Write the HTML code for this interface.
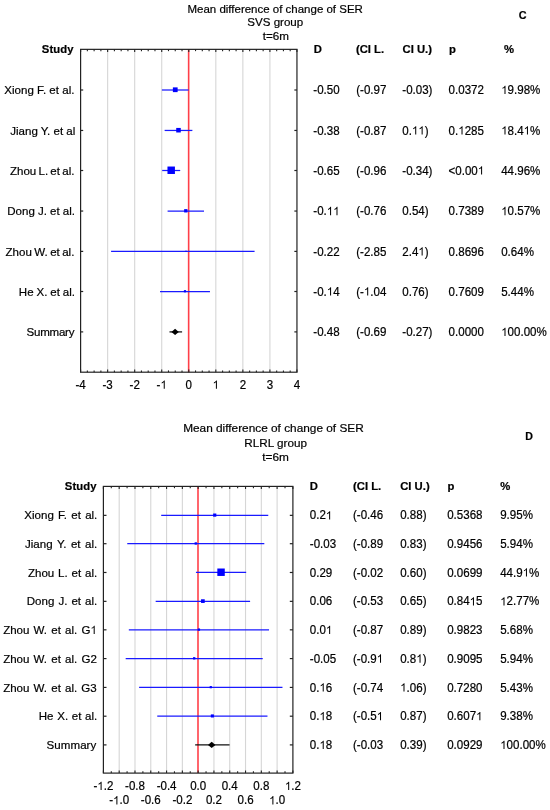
<!DOCTYPE html>
<html><head><meta charset="utf-8"><style>
html,body{margin:0;padding:0;background:#fff;}
body{width:550px;height:810px;overflow:hidden;}
svg{display:block;font-family:"Liberation Sans", sans-serif;filter:blur(0.45px);}
text{fill:#000;stroke:#000;stroke-width:0.2px;}
text .o{fill:none;stroke:none;}
.one{fill:#000;stroke:#000;stroke-width:0.2px;}
</style></head><body>
<svg width="550" height="810" viewBox="0 0 550 810">
<rect width="550" height="810" fill="#fff"/>
<line x1="107.64" y1="49.35" x2="107.64" y2="372.20" stroke="#d6d6d6" stroke-width="1.1"/>
<line x1="134.69" y1="49.35" x2="134.69" y2="372.20" stroke="#d6d6d6" stroke-width="1.1"/>
<line x1="161.73" y1="49.35" x2="161.73" y2="372.20" stroke="#d6d6d6" stroke-width="1.1"/>
<line x1="215.82" y1="49.35" x2="215.82" y2="372.20" stroke="#d6d6d6" stroke-width="1.1"/>
<line x1="242.86" y1="49.35" x2="242.86" y2="372.20" stroke="#d6d6d6" stroke-width="1.1"/>
<line x1="269.91" y1="49.35" x2="269.91" y2="372.20" stroke="#d6d6d6" stroke-width="1.1"/>
<line x1="188.65" y1="49.35" x2="188.65" y2="372.20" stroke="#ff3f48" stroke-width="1.6"/>
<line x1="162.54" y1="90.00" x2="187.96" y2="90.00" stroke="#1a1aff" stroke-width="1.25" stroke-linecap="square"/>
<rect x="172.87" y="87.37" width="4.76" height="4.76" fill="#0000ff"/>
<line x1="80.60" y1="90.00" x2="83.20" y2="90.00" stroke="#222" stroke-width="1.2"/>
<line x1="294.35" y1="90.00" x2="296.95" y2="90.00" stroke="#222" stroke-width="1.2"/>
<text transform="translate(4.34 94.10) scale(1 1.02)" text-anchor="start" font-size="11.55" word-spacing="0.05">Xiong F. et al.</text>
<text transform="translate(313.30 94.10) scale(1 1.045)" text-anchor="start" font-size="11.55">-0.50</text>
<text transform="translate(356.20 94.10) scale(1 1.045)" text-anchor="start" font-size="11.55">(-0.97</text>
<text transform="translate(402.30 94.10) scale(1 1.045)" text-anchor="start" font-size="11.55">-0.03)</text>
<text transform="translate(448.60 94.10) scale(1 1.045)" text-anchor="start" font-size="11.55">0.0372</text>
<text id="n0" transform="translate(501.20 94.10) scale(1 1.045)" text-anchor="start" font-size="11.55"><tspan class="o">1</tspan>9.98%</text>
<line x1="165.25" y1="130.45" x2="191.75" y2="130.45" stroke="#1a1aff" stroke-width="1.25" stroke-linecap="square"/>
<rect x="176.22" y="127.93" width="4.55" height="4.55" fill="#0000ff"/>
<line x1="80.60" y1="130.45" x2="83.20" y2="130.45" stroke="#222" stroke-width="1.2"/>
<line x1="294.35" y1="130.45" x2="296.95" y2="130.45" stroke="#222" stroke-width="1.2"/>
<text transform="translate(10.22 134.55) scale(1 1.02)" text-anchor="start" font-size="11.55" word-spacing="0.03">Jiang Y. et al</text>
<text transform="translate(313.30 134.55) scale(1 1.045)" text-anchor="start" font-size="11.55">-0.38</text>
<text transform="translate(356.20 134.55) scale(1 1.045)" text-anchor="start" font-size="11.55">(-0.87</text>
<text id="n1" transform="translate(402.30 134.55) scale(1 1.045)" text-anchor="start" font-size="11.55">0.<tspan class="o">1</tspan><tspan class="o">1</tspan>)</text>
<text id="n2" transform="translate(448.60 134.55) scale(1 1.045)" text-anchor="start" font-size="11.55">0.<tspan class="o">1</tspan>285</text>
<text id="n3" transform="translate(501.20 134.55) scale(1 1.045)" text-anchor="start" font-size="11.55"><tspan class="o">1</tspan>8.4<tspan class="o">1</tspan>%</text>
<line x1="162.81" y1="170.50" x2="179.58" y2="170.50" stroke="#1a1aff" stroke-width="1.25" stroke-linecap="square"/>
<rect x="167.47" y="166.53" width="7.45" height="7.45" fill="#0000ff"/>
<line x1="80.60" y1="170.50" x2="83.20" y2="170.50" stroke="#222" stroke-width="1.2"/>
<line x1="294.35" y1="170.50" x2="296.95" y2="170.50" stroke="#222" stroke-width="1.2"/>
<text transform="translate(9.93 174.60) scale(1 1.02)" text-anchor="start" font-size="11.55" word-spacing="-0.96">Zhou L. et al.</text>
<text transform="translate(313.30 174.60) scale(1 1.045)" text-anchor="start" font-size="11.55">-0.65</text>
<text transform="translate(356.20 174.60) scale(1 1.045)" text-anchor="start" font-size="11.55">(-0.96</text>
<text transform="translate(402.30 174.60) scale(1 1.045)" text-anchor="start" font-size="11.55">-0.34)</text>
<text id="n4" transform="translate(448.60 174.60) scale(1 1.045)" text-anchor="start" font-size="11.55">&lt;0.00<tspan class="o">1</tspan></text>
<text transform="translate(501.20 174.60) scale(1 1.045)" text-anchor="start" font-size="11.55">44.96%</text>
<line x1="168.22" y1="211.05" x2="203.38" y2="211.05" stroke="#1a1aff" stroke-width="1.25" stroke-linecap="square"/>
<rect x="184.15" y="209.15" width="3.30" height="3.30" fill="#0000ff"/>
<line x1="80.60" y1="211.05" x2="83.20" y2="211.05" stroke="#222" stroke-width="1.2"/>
<line x1="294.35" y1="211.05" x2="296.95" y2="211.05" stroke="#222" stroke-width="1.2"/>
<text transform="translate(7.25 215.15) scale(1 1.02)" text-anchor="start" font-size="11.55" word-spacing="-0.11">Dong J. et al.</text>
<text id="n5" transform="translate(313.30 215.15) scale(1 1.045)" text-anchor="start" font-size="11.55">-0.<tspan class="o">1</tspan><tspan class="o">1</tspan></text>
<text transform="translate(356.20 215.15) scale(1 1.045)" text-anchor="start" font-size="11.55">(-0.76</text>
<text transform="translate(402.30 215.15) scale(1 1.045)" text-anchor="start" font-size="11.55">0.54)</text>
<text transform="translate(448.60 215.15) scale(1 1.045)" text-anchor="start" font-size="11.55">0.7389</text>
<text id="n6" transform="translate(501.20 215.15) scale(1 1.045)" text-anchor="start" font-size="11.55"><tspan class="o">1</tspan>0.57%</text>
<line x1="111.70" y1="251.40" x2="253.95" y2="251.40" stroke="#1a1aff" stroke-width="1.25" stroke-linecap="square"/>
<rect x="185.45" y="250.60" width="1.10" height="1.10" fill="#0000ff"/>
<line x1="80.60" y1="251.40" x2="83.20" y2="251.40" stroke="#222" stroke-width="1.2"/>
<line x1="294.35" y1="251.40" x2="296.95" y2="251.40" stroke="#222" stroke-width="1.2"/>
<text transform="translate(5.53 255.50) scale(1 1.02)" text-anchor="start" font-size="11.55" word-spacing="-0.78">Zhou W. et al.</text>
<text transform="translate(313.30 255.50) scale(1 1.045)" text-anchor="start" font-size="11.55">-0.22</text>
<text transform="translate(356.20 255.50) scale(1 1.045)" text-anchor="start" font-size="11.55">(-2.85</text>
<text id="n7" transform="translate(402.30 255.50) scale(1 1.045)" text-anchor="start" font-size="11.55">2.4<tspan class="o">1</tspan>)</text>
<text transform="translate(448.60 255.50) scale(1 1.045)" text-anchor="start" font-size="11.55">0.8696</text>
<text transform="translate(501.20 255.50) scale(1 1.045)" text-anchor="start" font-size="11.55">0.64%</text>
<line x1="160.65" y1="291.50" x2="209.33" y2="291.50" stroke="#1a1aff" stroke-width="1.25" stroke-linecap="square"/>
<rect x="183.89" y="290.15" width="2.20" height="2.20" fill="#0000ff"/>
<line x1="80.60" y1="291.50" x2="83.20" y2="291.50" stroke="#222" stroke-width="1.2"/>
<line x1="294.35" y1="291.50" x2="296.95" y2="291.50" stroke="#222" stroke-width="1.2"/>
<text transform="translate(18.85 295.60) scale(1 1.02)" text-anchor="start" font-size="11.55" word-spacing="-0.34">He X. et al.</text>
<text id="n8" transform="translate(313.30 295.60) scale(1 1.045)" text-anchor="start" font-size="11.55">-0.<tspan class="o">1</tspan>4</text>
<text id="n9" transform="translate(356.20 295.60) scale(1 1.045)" text-anchor="start" font-size="11.55">(-<tspan class="o">1</tspan>.04</text>
<text transform="translate(402.30 295.60) scale(1 1.045)" text-anchor="start" font-size="11.55">0.76)</text>
<text transform="translate(448.60 295.60) scale(1 1.045)" text-anchor="start" font-size="11.55">0.7609</text>
<text transform="translate(501.20 295.60) scale(1 1.045)" text-anchor="start" font-size="11.55">5.44%</text>
<line x1="170.11" y1="331.90" x2="181.47" y2="331.90" stroke="#111" stroke-width="1.25" stroke-linecap="square"/>
<path d="M171.40,331.90L175.10,328.80L178.80,331.90L175.10,335.00Z" fill="#000"/>
<line x1="80.60" y1="331.90" x2="83.20" y2="331.90" stroke="#222" stroke-width="1.2"/>
<line x1="294.35" y1="331.90" x2="296.95" y2="331.90" stroke="#222" stroke-width="1.2"/>
<text transform="translate(26.48 336.00) scale(1 1.02)" text-anchor="start" font-size="11.55" textLength="48.05" lengthAdjust="spacing">Summary</text>
<text transform="translate(313.30 336.00) scale(1 1.045)" text-anchor="start" font-size="11.55">-0.48</text>
<text transform="translate(356.20 336.00) scale(1 1.045)" text-anchor="start" font-size="11.55">(-0.69</text>
<text transform="translate(402.30 336.00) scale(1 1.045)" text-anchor="start" font-size="11.55">-0.27)</text>
<text transform="translate(448.60 336.00) scale(1 1.045)" text-anchor="start" font-size="11.55">0.0000</text>
<text id="n10" transform="translate(501.20 336.00) scale(1 1.045)" text-anchor="start" font-size="11.55"><tspan class="o">1</tspan>00.00%</text>
<line x1="80.60" y1="49.35" x2="80.60" y2="51.95" stroke="#222" stroke-width="1.1"/>
<line x1="80.60" y1="372.20" x2="80.60" y2="369.60" stroke="#222" stroke-width="1.1"/>
<line x1="87.36" y1="49.35" x2="87.36" y2="51.15" stroke="#222" stroke-width="1.1"/>
<line x1="87.36" y1="372.20" x2="87.36" y2="370.40" stroke="#222" stroke-width="1.1"/>
<line x1="94.12" y1="49.35" x2="94.12" y2="51.15" stroke="#222" stroke-width="1.1"/>
<line x1="94.12" y1="372.20" x2="94.12" y2="370.40" stroke="#222" stroke-width="1.1"/>
<line x1="100.88" y1="49.35" x2="100.88" y2="51.15" stroke="#222" stroke-width="1.1"/>
<line x1="100.88" y1="372.20" x2="100.88" y2="370.40" stroke="#222" stroke-width="1.1"/>
<line x1="107.64" y1="49.35" x2="107.64" y2="51.95" stroke="#222" stroke-width="1.1"/>
<line x1="107.64" y1="372.20" x2="107.64" y2="369.60" stroke="#222" stroke-width="1.1"/>
<line x1="114.40" y1="49.35" x2="114.40" y2="51.15" stroke="#222" stroke-width="1.1"/>
<line x1="114.40" y1="372.20" x2="114.40" y2="370.40" stroke="#222" stroke-width="1.1"/>
<line x1="121.17" y1="49.35" x2="121.17" y2="51.15" stroke="#222" stroke-width="1.1"/>
<line x1="121.17" y1="372.20" x2="121.17" y2="370.40" stroke="#222" stroke-width="1.1"/>
<line x1="127.93" y1="49.35" x2="127.93" y2="51.15" stroke="#222" stroke-width="1.1"/>
<line x1="127.93" y1="372.20" x2="127.93" y2="370.40" stroke="#222" stroke-width="1.1"/>
<line x1="134.69" y1="49.35" x2="134.69" y2="51.95" stroke="#222" stroke-width="1.1"/>
<line x1="134.69" y1="372.20" x2="134.69" y2="369.60" stroke="#222" stroke-width="1.1"/>
<line x1="141.45" y1="49.35" x2="141.45" y2="51.15" stroke="#222" stroke-width="1.1"/>
<line x1="141.45" y1="372.20" x2="141.45" y2="370.40" stroke="#222" stroke-width="1.1"/>
<line x1="148.21" y1="49.35" x2="148.21" y2="51.15" stroke="#222" stroke-width="1.1"/>
<line x1="148.21" y1="372.20" x2="148.21" y2="370.40" stroke="#222" stroke-width="1.1"/>
<line x1="154.97" y1="49.35" x2="154.97" y2="51.15" stroke="#222" stroke-width="1.1"/>
<line x1="154.97" y1="372.20" x2="154.97" y2="370.40" stroke="#222" stroke-width="1.1"/>
<line x1="161.73" y1="49.35" x2="161.73" y2="51.95" stroke="#222" stroke-width="1.1"/>
<line x1="161.73" y1="372.20" x2="161.73" y2="369.60" stroke="#222" stroke-width="1.1"/>
<line x1="168.49" y1="49.35" x2="168.49" y2="51.15" stroke="#222" stroke-width="1.1"/>
<line x1="168.49" y1="372.20" x2="168.49" y2="370.40" stroke="#222" stroke-width="1.1"/>
<line x1="175.25" y1="49.35" x2="175.25" y2="51.15" stroke="#222" stroke-width="1.1"/>
<line x1="175.25" y1="372.20" x2="175.25" y2="370.40" stroke="#222" stroke-width="1.1"/>
<line x1="182.01" y1="49.35" x2="182.01" y2="51.15" stroke="#222" stroke-width="1.1"/>
<line x1="182.01" y1="372.20" x2="182.01" y2="370.40" stroke="#222" stroke-width="1.1"/>
<line x1="188.78" y1="49.35" x2="188.78" y2="51.95" stroke="#222" stroke-width="1.1"/>
<line x1="188.78" y1="372.20" x2="188.78" y2="369.60" stroke="#222" stroke-width="1.1"/>
<line x1="195.54" y1="49.35" x2="195.54" y2="51.15" stroke="#222" stroke-width="1.1"/>
<line x1="195.54" y1="372.20" x2="195.54" y2="370.40" stroke="#222" stroke-width="1.1"/>
<line x1="202.30" y1="49.35" x2="202.30" y2="51.15" stroke="#222" stroke-width="1.1"/>
<line x1="202.30" y1="372.20" x2="202.30" y2="370.40" stroke="#222" stroke-width="1.1"/>
<line x1="209.06" y1="49.35" x2="209.06" y2="51.15" stroke="#222" stroke-width="1.1"/>
<line x1="209.06" y1="372.20" x2="209.06" y2="370.40" stroke="#222" stroke-width="1.1"/>
<line x1="215.82" y1="49.35" x2="215.82" y2="51.95" stroke="#222" stroke-width="1.1"/>
<line x1="215.82" y1="372.20" x2="215.82" y2="369.60" stroke="#222" stroke-width="1.1"/>
<line x1="222.58" y1="49.35" x2="222.58" y2="51.15" stroke="#222" stroke-width="1.1"/>
<line x1="222.58" y1="372.20" x2="222.58" y2="370.40" stroke="#222" stroke-width="1.1"/>
<line x1="229.34" y1="49.35" x2="229.34" y2="51.15" stroke="#222" stroke-width="1.1"/>
<line x1="229.34" y1="372.20" x2="229.34" y2="370.40" stroke="#222" stroke-width="1.1"/>
<line x1="236.10" y1="49.35" x2="236.10" y2="51.15" stroke="#222" stroke-width="1.1"/>
<line x1="236.10" y1="372.20" x2="236.10" y2="370.40" stroke="#222" stroke-width="1.1"/>
<line x1="242.86" y1="49.35" x2="242.86" y2="51.95" stroke="#222" stroke-width="1.1"/>
<line x1="242.86" y1="372.20" x2="242.86" y2="369.60" stroke="#222" stroke-width="1.1"/>
<line x1="249.62" y1="49.35" x2="249.62" y2="51.15" stroke="#222" stroke-width="1.1"/>
<line x1="249.62" y1="372.20" x2="249.62" y2="370.40" stroke="#222" stroke-width="1.1"/>
<line x1="256.38" y1="49.35" x2="256.38" y2="51.15" stroke="#222" stroke-width="1.1"/>
<line x1="256.38" y1="372.20" x2="256.38" y2="370.40" stroke="#222" stroke-width="1.1"/>
<line x1="263.15" y1="49.35" x2="263.15" y2="51.15" stroke="#222" stroke-width="1.1"/>
<line x1="263.15" y1="372.20" x2="263.15" y2="370.40" stroke="#222" stroke-width="1.1"/>
<line x1="269.91" y1="49.35" x2="269.91" y2="51.95" stroke="#222" stroke-width="1.1"/>
<line x1="269.91" y1="372.20" x2="269.91" y2="369.60" stroke="#222" stroke-width="1.1"/>
<line x1="276.67" y1="49.35" x2="276.67" y2="51.15" stroke="#222" stroke-width="1.1"/>
<line x1="276.67" y1="372.20" x2="276.67" y2="370.40" stroke="#222" stroke-width="1.1"/>
<line x1="283.43" y1="49.35" x2="283.43" y2="51.15" stroke="#222" stroke-width="1.1"/>
<line x1="283.43" y1="372.20" x2="283.43" y2="370.40" stroke="#222" stroke-width="1.1"/>
<line x1="290.19" y1="49.35" x2="290.19" y2="51.15" stroke="#222" stroke-width="1.1"/>
<line x1="290.19" y1="372.20" x2="290.19" y2="370.40" stroke="#222" stroke-width="1.1"/>
<line x1="296.95" y1="49.35" x2="296.95" y2="51.95" stroke="#222" stroke-width="1.1"/>
<line x1="296.95" y1="372.20" x2="296.95" y2="369.60" stroke="#222" stroke-width="1.1"/>
<rect x="80.60" y="49.35" width="216.35" height="322.85" fill="none" stroke="#222" stroke-width="1.2"/>
<text transform="translate(80.60 388.70) scale(1 1.045)" text-anchor="middle" font-size="11.55">-4</text>
<text transform="translate(107.64 388.70) scale(1 1.045)" text-anchor="middle" font-size="11.55">-3</text>
<text transform="translate(134.69 388.70) scale(1 1.045)" text-anchor="middle" font-size="11.55">-2</text>
<text id="n11" transform="translate(161.73 388.70) scale(1 1.045)" text-anchor="middle" font-size="11.55">-<tspan class="o">1</tspan></text>
<text transform="translate(188.78 388.70) scale(1 1.045)" text-anchor="middle" font-size="11.55">0</text>
<text id="n12" transform="translate(215.82 388.70) scale(1 1.045)" text-anchor="middle" font-size="11.55"><tspan class="o">1</tspan></text>
<text transform="translate(242.86 388.70) scale(1 1.045)" text-anchor="middle" font-size="11.55">2</text>
<text transform="translate(269.91 388.70) scale(1 1.045)" text-anchor="middle" font-size="11.55">3</text>
<text transform="translate(296.95 388.70) scale(1 1.045)" text-anchor="middle" font-size="11.55">4</text>
<text transform="translate(41.87 53.20) scale(1 0.96)" text-anchor="start" font-weight="bold" font-size="11.3" textLength="31.59" lengthAdjust="spacing">Study</text>
<text transform="translate(313.80 53.20) scale(1 0.96)" text-anchor="start" font-weight="bold" font-size="11.3">D</text>
<text transform="translate(355.90 53.20) scale(1 0.96)" text-anchor="start" font-weight="bold" font-size="11.3">(CI L.</text>
<text transform="translate(402.50 53.20) scale(1 0.96)" text-anchor="start" font-weight="bold" font-size="11.3">CI U.)</text>
<text transform="translate(449.00 53.20) scale(1 0.96)" text-anchor="start" font-weight="bold" font-size="11.3">p</text>
<text transform="translate(504.00 53.20) scale(1 0.96)" text-anchor="start" font-weight="bold" font-size="11.3">%</text>
<text transform="translate(187.45 13.00) scale(0.9953 1.0)" font-size="11.55">Mean difference of change of SER</text>
<text transform="translate(247.28 25.80) scale(1.0027 1.0)" font-size="11.55">SVS group</text>
<text transform="translate(262.73 39.80) scale(1.0091 1.0)" font-size="11.55">t=6m</text>
<text transform="translate(518.66 19.10) scale(1 0.96)" text-anchor="start" font-weight="bold" font-size="10.8" textLength="8.24" lengthAdjust="spacing">C</text>
<line x1="119.19" y1="486.40" x2="119.19" y2="773.10" stroke="#d6d6d6" stroke-width="1.1"/>
<line x1="134.98" y1="486.40" x2="134.98" y2="773.10" stroke="#d6d6d6" stroke-width="1.1"/>
<line x1="150.77" y1="486.40" x2="150.77" y2="773.10" stroke="#d6d6d6" stroke-width="1.1"/>
<line x1="166.57" y1="486.40" x2="166.57" y2="773.10" stroke="#d6d6d6" stroke-width="1.1"/>
<line x1="182.36" y1="486.40" x2="182.36" y2="773.10" stroke="#d6d6d6" stroke-width="1.1"/>
<line x1="213.94" y1="486.40" x2="213.94" y2="773.10" stroke="#d6d6d6" stroke-width="1.1"/>
<line x1="229.73" y1="486.40" x2="229.73" y2="773.10" stroke="#d6d6d6" stroke-width="1.1"/>
<line x1="245.53" y1="486.40" x2="245.53" y2="773.10" stroke="#d6d6d6" stroke-width="1.1"/>
<line x1="261.32" y1="486.40" x2="261.32" y2="773.10" stroke="#d6d6d6" stroke-width="1.1"/>
<line x1="277.11" y1="486.40" x2="277.11" y2="773.10" stroke="#d6d6d6" stroke-width="1.1"/>
<line x1="198.00" y1="486.40" x2="198.00" y2="773.10" stroke="#ff3f48" stroke-width="1.6"/>
<line x1="161.83" y1="515.35" x2="267.63" y2="515.35" stroke="#1a1aff" stroke-width="1.25" stroke-linecap="square"/>
<rect x="213.14" y="513.51" width="3.19" height="3.19" fill="#0000ff"/>
<line x1="103.40" y1="515.35" x2="106.50" y2="515.35" stroke="#222" stroke-width="1.2"/>
<line x1="289.80" y1="515.35" x2="292.90" y2="515.35" stroke="#222" stroke-width="1.2"/>
<text transform="translate(24.34 519.45) scale(1 1.02)" text-anchor="start" font-size="11.55" word-spacing="1.02">Xiong F. et al.</text>
<text id="n13" transform="translate(309.80 519.45) scale(1 1.045)" text-anchor="start" font-size="11.55">0.2<tspan class="o">1</tspan></text>
<text transform="translate(353.00 519.45) scale(1 1.045)" text-anchor="start" font-size="11.55">(-0.46</text>
<text transform="translate(400.20 519.45) scale(1 1.045)" text-anchor="start" font-size="11.55">0.88)</text>
<text transform="translate(447.20 519.45) scale(1 1.045)" text-anchor="start" font-size="11.55">0.5368</text>
<text transform="translate(500.20 519.45) scale(1 1.045)" text-anchor="start" font-size="11.55">9.95%</text>
<line x1="127.88" y1="543.70" x2="263.69" y2="543.70" stroke="#1a1aff" stroke-width="1.25" stroke-linecap="square"/>
<rect x="194.62" y="542.29" width="2.32" height="2.32" fill="#0000ff"/>
<line x1="103.40" y1="543.70" x2="106.50" y2="543.70" stroke="#222" stroke-width="1.2"/>
<line x1="289.80" y1="543.70" x2="292.90" y2="543.70" stroke="#222" stroke-width="1.2"/>
<text transform="translate(25.02 547.80) scale(1 1.02)" text-anchor="start" font-size="11.55" word-spacing="1.35">Jiang Y. et al.</text>
<text transform="translate(309.80 547.80) scale(1 1.045)" text-anchor="start" font-size="11.55">-0.03</text>
<text transform="translate(353.00 547.80) scale(1 1.045)" text-anchor="start" font-size="11.55">(-0.89</text>
<text transform="translate(400.20 547.80) scale(1 1.045)" text-anchor="start" font-size="11.55">0.83)</text>
<text transform="translate(447.20 547.80) scale(1 1.045)" text-anchor="start" font-size="11.55">0.9456</text>
<text transform="translate(500.20 547.80) scale(1 1.045)" text-anchor="start" font-size="11.55">5.94%</text>
<line x1="196.57" y1="572.48" x2="245.53" y2="572.48" stroke="#1a1aff" stroke-width="1.25" stroke-linecap="square"/>
<rect x="217.33" y="568.51" width="7.44" height="7.44" fill="#0000ff"/>
<line x1="103.40" y1="572.48" x2="106.50" y2="572.48" stroke="#222" stroke-width="1.2"/>
<line x1="289.80" y1="572.48" x2="292.90" y2="572.48" stroke="#222" stroke-width="1.2"/>
<text transform="translate(27.93 576.58) scale(1 1.02)" text-anchor="start" font-size="11.55" word-spacing="0.67">Zhou L. et al.</text>
<text transform="translate(309.80 576.58) scale(1 1.045)" text-anchor="start" font-size="11.55">0.29</text>
<text transform="translate(353.00 576.58) scale(1 1.045)" text-anchor="start" font-size="11.55">(-0.02</text>
<text transform="translate(400.20 576.58) scale(1 1.045)" text-anchor="start" font-size="11.55">0.60)</text>
<text transform="translate(447.20 576.58) scale(1 1.045)" text-anchor="start" font-size="11.55">0.0699</text>
<text id="n14" transform="translate(500.20 576.58) scale(1 1.045)" text-anchor="start" font-size="11.55">44.9<tspan class="o">1</tspan>%</text>
<line x1="156.30" y1="601.35" x2="249.47" y2="601.35" stroke="#1a1aff" stroke-width="1.25" stroke-linecap="square"/>
<rect x="201.04" y="599.26" width="3.69" height="3.69" fill="#0000ff"/>
<line x1="103.40" y1="601.35" x2="106.50" y2="601.35" stroke="#222" stroke-width="1.2"/>
<line x1="289.80" y1="601.35" x2="292.90" y2="601.35" stroke="#222" stroke-width="1.2"/>
<text transform="translate(26.75 605.45) scale(1 1.02)" text-anchor="start" font-size="11.55" word-spacing="0.85">Dong J. et al.</text>
<text transform="translate(309.80 605.45) scale(1 1.045)" text-anchor="start" font-size="11.55">0.06</text>
<text transform="translate(353.00 605.45) scale(1 1.045)" text-anchor="start" font-size="11.55">(-0.53</text>
<text transform="translate(400.20 605.45) scale(1 1.045)" text-anchor="start" font-size="11.55">0.65)</text>
<text id="n15" transform="translate(447.20 605.45) scale(1 1.045)" text-anchor="start" font-size="11.55">0.84<tspan class="o">1</tspan>5</text>
<text id="n16" transform="translate(500.20 605.45) scale(1 1.045)" text-anchor="start" font-size="11.55"><tspan class="o">1</tspan>2.77%</text>
<line x1="129.45" y1="629.83" x2="268.42" y2="629.83" stroke="#1a1aff" stroke-width="1.25" stroke-linecap="square"/>
<rect x="197.81" y="628.45" width="2.26" height="2.26" fill="#0000ff"/>
<line x1="103.40" y1="629.83" x2="106.50" y2="629.83" stroke="#222" stroke-width="1.2"/>
<line x1="289.80" y1="629.83" x2="292.90" y2="629.83" stroke="#222" stroke-width="1.2"/>
<text id="n17" transform="translate(3.13 633.93) scale(1 1.02)" text-anchor="start" font-size="11.55" word-spacing="0.97">Zhou W. et al. G<tspan class="o">1</tspan></text>
<text id="n18" transform="translate(309.80 633.93) scale(1 1.045)" text-anchor="start" font-size="11.55">0.0<tspan class="o">1</tspan></text>
<text transform="translate(353.00 633.93) scale(1 1.045)" text-anchor="start" font-size="11.55">(-0.87</text>
<text transform="translate(400.20 633.93) scale(1 1.045)" text-anchor="start" font-size="11.55">0.89)</text>
<text transform="translate(447.20 633.93) scale(1 1.045)" text-anchor="start" font-size="11.55">0.9823</text>
<text transform="translate(500.20 633.93) scale(1 1.045)" text-anchor="start" font-size="11.55">5.68%</text>
<line x1="126.30" y1="658.57" x2="262.11" y2="658.57" stroke="#1a1aff" stroke-width="1.25" stroke-linecap="square"/>
<rect x="193.04" y="657.16" width="2.32" height="2.32" fill="#0000ff"/>
<line x1="103.40" y1="658.57" x2="106.50" y2="658.57" stroke="#222" stroke-width="1.2"/>
<line x1="289.80" y1="658.57" x2="292.90" y2="658.57" stroke="#222" stroke-width="1.2"/>
<text transform="translate(3.13 662.67) scale(1 1.02)" text-anchor="start" font-size="11.55" word-spacing="0.97">Zhou W. et al. G2</text>
<text transform="translate(309.80 662.67) scale(1 1.045)" text-anchor="start" font-size="11.55">-0.05</text>
<text id="n19" transform="translate(353.00 662.67) scale(1 1.045)" text-anchor="start" font-size="11.55">(-0.9<tspan class="o">1</tspan></text>
<text id="n20" transform="translate(400.20 662.67) scale(1 1.045)" text-anchor="start" font-size="11.55">0.8<tspan class="o">1</tspan>)</text>
<text transform="translate(447.20 662.67) scale(1 1.045)" text-anchor="start" font-size="11.55">0.9095</text>
<text transform="translate(500.20 662.67) scale(1 1.045)" text-anchor="start" font-size="11.55">5.94%</text>
<line x1="139.72" y1="687.43" x2="281.85" y2="687.43" stroke="#1a1aff" stroke-width="1.25" stroke-linecap="square"/>
<rect x="209.69" y="686.08" width="2.20" height="2.20" fill="#0000ff"/>
<line x1="103.40" y1="687.43" x2="106.50" y2="687.43" stroke="#222" stroke-width="1.2"/>
<line x1="289.80" y1="687.43" x2="292.90" y2="687.43" stroke="#222" stroke-width="1.2"/>
<text transform="translate(3.13 691.53) scale(1 1.02)" text-anchor="start" font-size="11.55" word-spacing="0.95">Zhou W. et al. G3</text>
<text id="n21" transform="translate(309.80 691.53) scale(1 1.045)" text-anchor="start" font-size="11.55">0.<tspan class="o">1</tspan>6</text>
<text transform="translate(353.00 691.53) scale(1 1.045)" text-anchor="start" font-size="11.55">(-0.74</text>
<text id="n22" transform="translate(400.20 691.53) scale(1 1.045)" text-anchor="start" font-size="11.55"><tspan class="o">1</tspan>.06)</text>
<text transform="translate(447.20 691.53) scale(1 1.045)" text-anchor="start" font-size="11.55">0.7280</text>
<text transform="translate(500.20 691.53) scale(1 1.045)" text-anchor="start" font-size="11.55">5.43%</text>
<line x1="157.88" y1="716.20" x2="266.85" y2="716.20" stroke="#1a1aff" stroke-width="1.25" stroke-linecap="square"/>
<rect x="210.83" y="714.41" width="3.08" height="3.08" fill="#0000ff"/>
<line x1="103.40" y1="716.20" x2="106.50" y2="716.20" stroke="#222" stroke-width="1.2"/>
<line x1="289.80" y1="716.20" x2="292.90" y2="716.20" stroke="#222" stroke-width="1.2"/>
<text transform="translate(38.75 720.30) scale(1 1.02)" text-anchor="start" font-size="11.55" word-spacing="0.49">He X. et al.</text>
<text id="n23" transform="translate(309.80 720.30) scale(1 1.045)" text-anchor="start" font-size="11.55">0.<tspan class="o">1</tspan>8</text>
<text id="n24" transform="translate(353.00 720.30) scale(1 1.045)" text-anchor="start" font-size="11.55">(-0.5<tspan class="o">1</tspan></text>
<text transform="translate(400.20 720.30) scale(1 1.045)" text-anchor="start" font-size="11.55">0.87)</text>
<text id="n25" transform="translate(447.20 720.30) scale(1 1.045)" text-anchor="start" font-size="11.55">0.607<tspan class="o">1</tspan></text>
<text transform="translate(500.20 720.30) scale(1 1.045)" text-anchor="start" font-size="11.55">9.38%</text>
<line x1="195.78" y1="744.90" x2="228.94" y2="744.90" stroke="#111" stroke-width="1.25" stroke-linecap="square"/>
<path d="M208.00,744.90L211.70,741.80L215.40,744.90L211.70,748.00Z" fill="#000"/>
<line x1="103.40" y1="744.90" x2="106.50" y2="744.90" stroke="#222" stroke-width="1.2"/>
<line x1="289.80" y1="744.90" x2="292.90" y2="744.90" stroke="#222" stroke-width="1.2"/>
<text transform="translate(46.48 749.00) scale(1 1.02)" text-anchor="start" font-size="11.55" textLength="49.85" lengthAdjust="spacing">Summary</text>
<text id="n26" transform="translate(309.80 749.00) scale(1 1.045)" text-anchor="start" font-size="11.55">0.<tspan class="o">1</tspan>8</text>
<text transform="translate(353.00 749.00) scale(1 1.045)" text-anchor="start" font-size="11.55">(-0.03</text>
<text transform="translate(400.20 749.00) scale(1 1.045)" text-anchor="start" font-size="11.55">0.39)</text>
<text transform="translate(447.20 749.00) scale(1 1.045)" text-anchor="start" font-size="11.55">0.0929</text>
<text id="n27" transform="translate(500.20 749.00) scale(1 1.045)" text-anchor="start" font-size="11.55"><tspan class="o">1</tspan>00.00%</text>
<line x1="103.40" y1="486.40" x2="103.40" y2="489.00" stroke="#222" stroke-width="1.1"/>
<line x1="103.40" y1="773.10" x2="103.40" y2="770.50" stroke="#222" stroke-width="1.1"/>
<line x1="111.29" y1="486.40" x2="111.29" y2="488.20" stroke="#222" stroke-width="1.1"/>
<line x1="111.29" y1="773.10" x2="111.29" y2="771.30" stroke="#222" stroke-width="1.1"/>
<line x1="119.19" y1="486.40" x2="119.19" y2="489.00" stroke="#222" stroke-width="1.1"/>
<line x1="119.19" y1="773.10" x2="119.19" y2="770.50" stroke="#222" stroke-width="1.1"/>
<line x1="127.09" y1="486.40" x2="127.09" y2="488.20" stroke="#222" stroke-width="1.1"/>
<line x1="127.09" y1="773.10" x2="127.09" y2="771.30" stroke="#222" stroke-width="1.1"/>
<line x1="134.98" y1="486.40" x2="134.98" y2="489.00" stroke="#222" stroke-width="1.1"/>
<line x1="134.98" y1="773.10" x2="134.98" y2="770.50" stroke="#222" stroke-width="1.1"/>
<line x1="142.88" y1="486.40" x2="142.88" y2="488.20" stroke="#222" stroke-width="1.1"/>
<line x1="142.88" y1="773.10" x2="142.88" y2="771.30" stroke="#222" stroke-width="1.1"/>
<line x1="150.77" y1="486.40" x2="150.77" y2="489.00" stroke="#222" stroke-width="1.1"/>
<line x1="150.77" y1="773.10" x2="150.77" y2="770.50" stroke="#222" stroke-width="1.1"/>
<line x1="158.67" y1="486.40" x2="158.67" y2="488.20" stroke="#222" stroke-width="1.1"/>
<line x1="158.67" y1="773.10" x2="158.67" y2="771.30" stroke="#222" stroke-width="1.1"/>
<line x1="166.57" y1="486.40" x2="166.57" y2="489.00" stroke="#222" stroke-width="1.1"/>
<line x1="166.57" y1="773.10" x2="166.57" y2="770.50" stroke="#222" stroke-width="1.1"/>
<line x1="174.46" y1="486.40" x2="174.46" y2="488.20" stroke="#222" stroke-width="1.1"/>
<line x1="174.46" y1="773.10" x2="174.46" y2="771.30" stroke="#222" stroke-width="1.1"/>
<line x1="182.36" y1="486.40" x2="182.36" y2="489.00" stroke="#222" stroke-width="1.1"/>
<line x1="182.36" y1="773.10" x2="182.36" y2="770.50" stroke="#222" stroke-width="1.1"/>
<line x1="190.25" y1="486.40" x2="190.25" y2="488.20" stroke="#222" stroke-width="1.1"/>
<line x1="190.25" y1="773.10" x2="190.25" y2="771.30" stroke="#222" stroke-width="1.1"/>
<line x1="198.15" y1="486.40" x2="198.15" y2="489.00" stroke="#222" stroke-width="1.1"/>
<line x1="198.15" y1="773.10" x2="198.15" y2="770.50" stroke="#222" stroke-width="1.1"/>
<line x1="206.05" y1="486.40" x2="206.05" y2="488.20" stroke="#222" stroke-width="1.1"/>
<line x1="206.05" y1="773.10" x2="206.05" y2="771.30" stroke="#222" stroke-width="1.1"/>
<line x1="213.94" y1="486.40" x2="213.94" y2="489.00" stroke="#222" stroke-width="1.1"/>
<line x1="213.94" y1="773.10" x2="213.94" y2="770.50" stroke="#222" stroke-width="1.1"/>
<line x1="221.84" y1="486.40" x2="221.84" y2="488.20" stroke="#222" stroke-width="1.1"/>
<line x1="221.84" y1="773.10" x2="221.84" y2="771.30" stroke="#222" stroke-width="1.1"/>
<line x1="229.73" y1="486.40" x2="229.73" y2="489.00" stroke="#222" stroke-width="1.1"/>
<line x1="229.73" y1="773.10" x2="229.73" y2="770.50" stroke="#222" stroke-width="1.1"/>
<line x1="237.63" y1="486.40" x2="237.63" y2="488.20" stroke="#222" stroke-width="1.1"/>
<line x1="237.63" y1="773.10" x2="237.63" y2="771.30" stroke="#222" stroke-width="1.1"/>
<line x1="245.53" y1="486.40" x2="245.53" y2="489.00" stroke="#222" stroke-width="1.1"/>
<line x1="245.53" y1="773.10" x2="245.53" y2="770.50" stroke="#222" stroke-width="1.1"/>
<line x1="253.42" y1="486.40" x2="253.42" y2="488.20" stroke="#222" stroke-width="1.1"/>
<line x1="253.42" y1="773.10" x2="253.42" y2="771.30" stroke="#222" stroke-width="1.1"/>
<line x1="261.32" y1="486.40" x2="261.32" y2="489.00" stroke="#222" stroke-width="1.1"/>
<line x1="261.32" y1="773.10" x2="261.32" y2="770.50" stroke="#222" stroke-width="1.1"/>
<line x1="269.21" y1="486.40" x2="269.21" y2="488.20" stroke="#222" stroke-width="1.1"/>
<line x1="269.21" y1="773.10" x2="269.21" y2="771.30" stroke="#222" stroke-width="1.1"/>
<line x1="277.11" y1="486.40" x2="277.11" y2="489.00" stroke="#222" stroke-width="1.1"/>
<line x1="277.11" y1="773.10" x2="277.11" y2="770.50" stroke="#222" stroke-width="1.1"/>
<line x1="285.01" y1="486.40" x2="285.01" y2="488.20" stroke="#222" stroke-width="1.1"/>
<line x1="285.01" y1="773.10" x2="285.01" y2="771.30" stroke="#222" stroke-width="1.1"/>
<line x1="292.90" y1="486.40" x2="292.90" y2="489.00" stroke="#222" stroke-width="1.1"/>
<line x1="292.90" y1="773.10" x2="292.90" y2="770.50" stroke="#222" stroke-width="1.1"/>
<rect x="103.40" y="486.40" width="189.50" height="286.70" fill="none" stroke="#222" stroke-width="1.2"/>
<text id="n28" transform="translate(103.40 790.00) scale(1 1.045)" text-anchor="middle" font-size="11.55">-<tspan class="o">1</tspan>.2</text>
<text transform="translate(134.98 790.00) scale(1 1.045)" text-anchor="middle" font-size="11.55">-0.8</text>
<text transform="translate(166.57 790.00) scale(1 1.045)" text-anchor="middle" font-size="11.55">-0.4</text>
<text transform="translate(198.15 790.00) scale(1 1.045)" text-anchor="middle" font-size="11.55">0.0</text>
<text transform="translate(229.73 790.00) scale(1 1.045)" text-anchor="middle" font-size="11.55">0.4</text>
<text transform="translate(261.32 790.00) scale(1 1.045)" text-anchor="middle" font-size="11.55">0.8</text>
<text id="n29" transform="translate(292.90 790.00) scale(1 1.045)" text-anchor="middle" font-size="11.55"><tspan class="o">1</tspan>.2</text>
<text id="n30" transform="translate(119.19 804.40) scale(1 1.045)" text-anchor="middle" font-size="11.55">-<tspan class="o">1</tspan>.0</text>
<text transform="translate(150.77 804.40) scale(1 1.045)" text-anchor="middle" font-size="11.55">-0.6</text>
<text transform="translate(182.36 804.40) scale(1 1.045)" text-anchor="middle" font-size="11.55">-0.2</text>
<text transform="translate(213.94 804.40) scale(1 1.045)" text-anchor="middle" font-size="11.55">0.2</text>
<text transform="translate(245.53 804.40) scale(1 1.045)" text-anchor="middle" font-size="11.55">0.6</text>
<text id="n31" transform="translate(277.11 804.40) scale(1 1.045)" text-anchor="middle" font-size="11.55"><tspan class="o">1</tspan>.0</text>
<text transform="translate(64.87 490.20) scale(1 0.96)" text-anchor="start" font-weight="bold" font-size="11.3" textLength="31.69" lengthAdjust="spacing">Study</text>
<text transform="translate(309.80 490.20) scale(1 0.96)" text-anchor="start" font-weight="bold" font-size="11.3">D</text>
<text transform="translate(353.00 490.20) scale(1 0.96)" text-anchor="start" font-weight="bold" font-size="11.3">(CI L.</text>
<text transform="translate(400.20 490.20) scale(1 0.96)" text-anchor="start" font-weight="bold" font-size="11.3">CI U.)</text>
<text transform="translate(447.60 490.20) scale(1 0.96)" text-anchor="start" font-weight="bold" font-size="11.3">p</text>
<text transform="translate(500.20 490.20) scale(1 0.96)" text-anchor="start" font-weight="bold" font-size="11.3">%</text>
<text transform="translate(183.15 431.80) scale(1.0242 1.0)" font-size="11.55">Mean difference of change of SER</text>
<text transform="translate(244.35 446.60) scale(1.0144 1.0)" font-size="11.55">RLRL group</text>
<text transform="translate(262.33 461.20) scale(1.0245 1.0)" font-size="11.55">t=6m</text>
<text transform="translate(525.29 439.60) scale(1 0.96)" text-anchor="start" font-weight="bold" font-size="10.6" textLength="7.95" lengthAdjust="spacing">D</text>
<g transform="translate(501.20 94.10) scale(1 1.045)"><path class="one" d="M763,0L583,0L583,1098Q518,1038 412,979Q306,920 222,890L222,1057Q373,1125 486,1221Q599,1318 646,1409L763,1409Z" transform="translate(0.000 0.000) scale(0.005640 -0.005640)"/></g>
<g transform="translate(402.30 134.55) scale(1 1.045)"><path class="one" d="M763,0L583,0L583,1098Q518,1038 412,979Q306,920 222,890L222,1057Q373,1125 486,1221Q599,1318 646,1409L763,1409Z" transform="translate(9.625 0.000) scale(0.005640 -0.005640)"/><path class="one" d="M763,0L583,0L583,1098Q518,1038 412,979Q306,920 222,890L222,1057Q373,1125 486,1221Q599,1318 646,1409L763,1409Z" transform="translate(16.041 0.000) scale(0.005640 -0.005640)"/></g>
<g transform="translate(448.60 134.55) scale(1 1.045)"><path class="one" d="M763,0L583,0L583,1098Q518,1038 412,979Q306,920 222,890L222,1057Q373,1125 486,1221Q599,1318 646,1409L763,1409Z" transform="translate(9.625 0.000) scale(0.005640 -0.005640)"/></g>
<g transform="translate(501.20 134.55) scale(1 1.045)"><path class="one" d="M763,0L583,0L583,1098Q518,1038 412,979Q306,920 222,890L222,1057Q373,1125 486,1221Q599,1318 646,1409L763,1409Z" transform="translate(0.000 0.000) scale(0.005640 -0.005640)"/><path class="one" d="M763,0L583,0L583,1098Q518,1038 412,979Q306,920 222,890L222,1057Q373,1125 486,1221Q599,1318 646,1409L763,1409Z" transform="translate(22.458 0.000) scale(0.005640 -0.005640)"/></g>
<g transform="translate(448.60 174.60) scale(1 1.045)"><path class="one" d="M763,0L583,0L583,1098Q518,1038 412,979Q306,920 222,890L222,1057Q373,1125 486,1221Q599,1318 646,1409L763,1409Z" transform="translate(29.195 0.000) scale(0.005640 -0.005640)"/></g>
<g transform="translate(313.30 215.15) scale(1 1.045)"><path class="one" d="M763,0L583,0L583,1098Q518,1038 412,979Q306,920 222,890L222,1057Q373,1125 486,1221Q599,1318 646,1409L763,1409Z" transform="translate(13.475 0.000) scale(0.005640 -0.005640)"/><path class="one" d="M763,0L583,0L583,1098Q518,1038 412,979Q306,920 222,890L222,1057Q373,1125 486,1221Q599,1318 646,1409L763,1409Z" transform="translate(19.891 0.000) scale(0.005640 -0.005640)"/></g>
<g transform="translate(501.20 215.15) scale(1 1.045)"><path class="one" d="M763,0L583,0L583,1098Q518,1038 412,979Q306,920 222,890L222,1057Q373,1125 486,1221Q599,1318 646,1409L763,1409Z" transform="translate(0.000 0.000) scale(0.005640 -0.005640)"/></g>
<g transform="translate(402.30 255.50) scale(1 1.045)"><path class="one" d="M763,0L583,0L583,1098Q518,1038 412,979Q306,920 222,890L222,1057Q373,1125 486,1221Q599,1318 646,1409L763,1409Z" transform="translate(16.041 0.000) scale(0.005640 -0.005640)"/></g>
<g transform="translate(313.30 295.60) scale(1 1.045)"><path class="one" d="M763,0L583,0L583,1098Q518,1038 412,979Q306,920 222,890L222,1057Q373,1125 486,1221Q599,1318 646,1409L763,1409Z" transform="translate(13.475 0.000) scale(0.005640 -0.005640)"/></g>
<g transform="translate(356.20 295.60) scale(1 1.045)"><path class="one" d="M763,0L583,0L583,1098Q518,1038 412,979Q306,920 222,890L222,1057Q373,1125 486,1221Q599,1318 646,1409L763,1409Z" transform="translate(7.685 0.000) scale(0.005640 -0.005640)"/></g>
<g transform="translate(501.20 336.00) scale(1 1.045)"><path class="one" d="M763,0L583,0L583,1098Q518,1038 412,979Q306,920 222,890L222,1057Q373,1125 486,1221Q599,1318 646,1409L763,1409Z" transform="translate(0.000 0.000) scale(0.005640 -0.005640)"/></g>
<g transform="translate(161.73 388.70) scale(1 1.045)"><path class="one" d="M763,0L583,0L583,1098Q518,1038 412,979Q306,920 222,890L222,1057Q373,1125 486,1221Q599,1318 646,1409L763,1409Z" transform="translate(-1.283 0.000) scale(0.005640 -0.005640)"/></g>
<g transform="translate(215.82 388.70) scale(1 1.045)"><path class="one" d="M763,0L583,0L583,1098Q518,1038 412,979Q306,920 222,890L222,1057Q373,1125 486,1221Q599,1318 646,1409L763,1409Z" transform="translate(-3.208 0.000) scale(0.005640 -0.005640)"/></g>
<g transform="translate(309.80 519.45) scale(1 1.045)"><path class="one" d="M763,0L583,0L583,1098Q518,1038 412,979Q306,920 222,890L222,1057Q373,1125 486,1221Q599,1318 646,1409L763,1409Z" transform="translate(16.041 0.000) scale(0.005640 -0.005640)"/></g>
<g transform="translate(500.20 576.58) scale(1 1.045)"><path class="one" d="M763,0L583,0L583,1098Q518,1038 412,979Q306,920 222,890L222,1057Q373,1125 486,1221Q599,1318 646,1409L763,1409Z" transform="translate(22.458 0.000) scale(0.005640 -0.005640)"/></g>
<g transform="translate(447.20 605.45) scale(1 1.045)"><path class="one" d="M763,0L583,0L583,1098Q518,1038 412,979Q306,920 222,890L222,1057Q373,1125 486,1221Q599,1318 646,1409L763,1409Z" transform="translate(22.458 0.000) scale(0.005640 -0.005640)"/></g>
<g transform="translate(500.20 605.45) scale(1 1.045)"><path class="one" d="M763,0L583,0L583,1098Q518,1038 412,979Q306,920 222,890L222,1057Q373,1125 486,1221Q599,1318 646,1409L763,1409Z" transform="translate(0.000 0.000) scale(0.005640 -0.005640)"/></g>
<g transform="translate(3.13 633.93) scale(1 1.02)"><path class="one" d="M763,0L583,0L583,1098Q518,1038 412,979Q306,920 222,890L222,1057Q373,1125 486,1221Q599,1318 646,1409L763,1409Z" transform="translate(87.264 0.000) scale(0.005640 -0.005640)"/></g>
<g transform="translate(309.80 633.93) scale(1 1.045)"><path class="one" d="M763,0L583,0L583,1098Q518,1038 412,979Q306,920 222,890L222,1057Q373,1125 486,1221Q599,1318 646,1409L763,1409Z" transform="translate(16.041 0.000) scale(0.005640 -0.005640)"/></g>
<g transform="translate(353.00 662.67) scale(1 1.045)"><path class="one" d="M763,0L583,0L583,1098Q518,1038 412,979Q306,920 222,890L222,1057Q373,1125 486,1221Q599,1318 646,1409L763,1409Z" transform="translate(23.726 0.000) scale(0.005640 -0.005640)"/></g>
<g transform="translate(400.20 662.67) scale(1 1.045)"><path class="one" d="M763,0L583,0L583,1098Q518,1038 412,979Q306,920 222,890L222,1057Q373,1125 486,1221Q599,1318 646,1409L763,1409Z" transform="translate(16.041 0.000) scale(0.005640 -0.005640)"/></g>
<g transform="translate(309.80 691.53) scale(1 1.045)"><path class="one" d="M763,0L583,0L583,1098Q518,1038 412,979Q306,920 222,890L222,1057Q373,1125 486,1221Q599,1318 646,1409L763,1409Z" transform="translate(9.625 0.000) scale(0.005640 -0.005640)"/></g>
<g transform="translate(400.20 691.53) scale(1 1.045)"><path class="one" d="M763,0L583,0L583,1098Q518,1038 412,979Q306,920 222,890L222,1057Q373,1125 486,1221Q599,1318 646,1409L763,1409Z" transform="translate(0.000 0.000) scale(0.005640 -0.005640)"/></g>
<g transform="translate(309.80 720.30) scale(1 1.045)"><path class="one" d="M763,0L583,0L583,1098Q518,1038 412,979Q306,920 222,890L222,1057Q373,1125 486,1221Q599,1318 646,1409L763,1409Z" transform="translate(9.625 0.000) scale(0.005640 -0.005640)"/></g>
<g transform="translate(353.00 720.30) scale(1 1.045)"><path class="one" d="M763,0L583,0L583,1098Q518,1038 412,979Q306,920 222,890L222,1057Q373,1125 486,1221Q599,1318 646,1409L763,1409Z" transform="translate(23.726 0.000) scale(0.005640 -0.005640)"/></g>
<g transform="translate(447.20 720.30) scale(1 1.045)"><path class="one" d="M763,0L583,0L583,1098Q518,1038 412,979Q306,920 222,890L222,1057Q373,1125 486,1221Q599,1318 646,1409L763,1409Z" transform="translate(28.874 0.000) scale(0.005640 -0.005640)"/></g>
<g transform="translate(309.80 749.00) scale(1 1.045)"><path class="one" d="M763,0L583,0L583,1098Q518,1038 412,979Q306,920 222,890L222,1057Q373,1125 486,1221Q599,1318 646,1409L763,1409Z" transform="translate(9.625 0.000) scale(0.005640 -0.005640)"/></g>
<g transform="translate(500.20 749.00) scale(1 1.045)"><path class="one" d="M763,0L583,0L583,1098Q518,1038 412,979Q306,920 222,890L222,1057Q373,1125 486,1221Q599,1318 646,1409L763,1409Z" transform="translate(0.000 0.000) scale(0.005640 -0.005640)"/></g>
<g transform="translate(103.40 790.00) scale(1 1.045)"><path class="one" d="M763,0L583,0L583,1098Q518,1038 412,979Q306,920 222,890L222,1057Q373,1125 486,1221Q599,1318 646,1409L763,1409Z" transform="translate(-6.096 0.000) scale(0.005640 -0.005640)"/></g>
<g transform="translate(292.90 790.00) scale(1 1.045)"><path class="one" d="M763,0L583,0L583,1098Q518,1038 412,979Q306,920 222,890L222,1057Q373,1125 486,1221Q599,1318 646,1409L763,1409Z" transform="translate(-8.021 0.000) scale(0.005640 -0.005640)"/></g>
<g transform="translate(119.19 804.40) scale(1 1.045)"><path class="one" d="M763,0L583,0L583,1098Q518,1038 412,979Q306,920 222,890L222,1057Q373,1125 486,1221Q599,1318 646,1409L763,1409Z" transform="translate(-6.096 0.000) scale(0.005640 -0.005640)"/></g>
<g transform="translate(277.11 804.40) scale(1 1.045)"><path class="one" d="M763,0L583,0L583,1098Q518,1038 412,979Q306,920 222,890L222,1057Q373,1125 486,1221Q599,1318 646,1409L763,1409Z" transform="translate(-8.021 0.000) scale(0.005640 -0.005640)"/></g>
</svg>
</body></html>
